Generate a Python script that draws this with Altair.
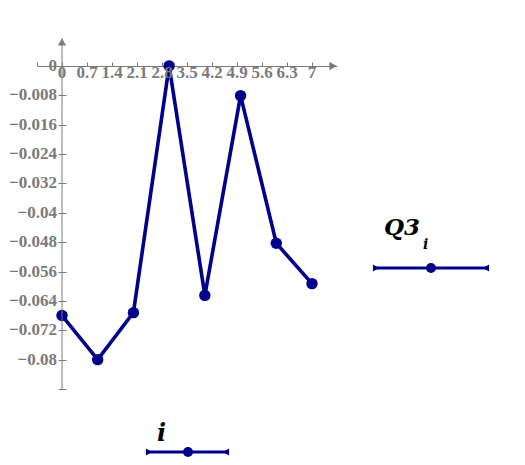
import altair as alt
import pandas as pd

# data
i_vals = [0, 1, 2, 3, 4, 5, 6, 7]
q3_vals = [-0.068, -0.080, -0.0672, 0.0, -0.0625, -0.0081, -0.0483, -0.0593]

x_ticks = [-0.7, 0, 0.7, 1.4, 2.1, 2.8, 3.5, 4.2, 4.9, 5.6, 6.3, 7]
x_labels = [0, 0.7, 1.4, 2.1, 2.8, 3.5, 4.2, 4.9, 5.6, 6.3, 7]
y_ticks = [-0.088, -0.08, -0.072, -0.064, -0.056, -0.048, -0.04, -0.032,
           -0.024, -0.016, -0.008, 0]
y_labels = [-0.08, -0.072, -0.064, -0.056, -0.048, -0.04, -0.032,
            -0.024, -0.016, -0.008, 0]
x_domain = [-0.7, 7.7]
y_domain = [-0.088, 0.0076]


def fmt(v):
    return f"{v:g}".replace("-", "\u2212")


df = pd.DataFrame({"i": i_vals, "Q3": q3_vals})
xl_df = pd.DataFrame({"i": x_labels, "txt": [fmt(v) for v in x_labels]})
yl_df = pd.DataFrame({"Q3": y_labels, "txt": [fmt(v) for v in y_labels]})

GRAY = "#7a7a7a"
NAVY = "#00008b"
FONT = "DejaVu Serif"
LFONT = "Liberation Serif"

xs = alt.Scale(domain=x_domain, nice=False, zero=False)
ys = alt.Scale(domain=y_domain, nice=False, zero=False)
x_axis = alt.Axis(
    orient="top", offset=-28, values=x_ticks, grid=False, title=None,
    tickSize=4, tickColor=GRAY, domainColor=GRAY, labels=False,
)
y_axis = alt.Axis(
    orient="left", offset=-29, values=y_ticks, grid=False, title=None,
    domain=False, tickSize=8, tickColor=GRAY, labels=False,
)
x_enc = alt.X("i:Q", scale=xs, axis=x_axis)
y_enc = alt.Y("Q3:Q", scale=ys, axis=y_axis)

base = alt.Chart(df)
line = base.mark_line(color=NAVY, strokeWidth=3.6).encode(x=x_enc, y=y_enc)
pts = base.mark_point(filled=True, color=NAVY, size=130, opacity=1).encode(x=x_enc, y=y_enc)

# tick labels drawn as text through the same scales
x_lab = alt.Chart(xl_df).mark_text(
    font=LFONT, fontSize=17, fontWeight="bold", color=GRAY,
    align="center", baseline="top").encode(
    x=alt.X("i:Q", scale=xs, axis=x_axis), y=alt.value(27), text="txt:N")
y_lab = alt.Chart(yl_df).mark_text(
    font=LFONT, fontSize=17, fontWeight="bold", color=GRAY,
    align="right", baseline="middle").encode(
    x=alt.value(20), y=alt.Y("Q3:Q", scale=ys, axis=y_axis), text="txt:N")

one = pd.DataFrame({"k": [0]})
oc = alt.Chart(one)
yaxis_line = oc.mark_rule(color=GRAY, strokeWidth=1).encode(
    x=alt.value(25), y=alt.value(0), y2=alt.value(351))
arrow_up = oc.mark_point(shape="triangle-up", filled=True, color=GRAY, size=70, opacity=1).encode(
    x=alt.value(25), y=alt.value(4))
arrow_right = oc.mark_point(shape="triangle-right", filled=True, color=GRAY, size=70, opacity=1).encode(
    x=alt.value(296), y=alt.value(28))

# placeholder labels (Mathcad style)
q3_text = oc.mark_text(text="Q3", font=FONT, fontSize=23, fontWeight="bold",
                       fontStyle="italic", color="black", align="left").encode(
    x=alt.value(347), y=alt.value(190))
q3_sub = oc.mark_text(text="i", font=FONT, fontSize=14, fontWeight="bold",
                      fontStyle="italic", color="black", align="left").encode(
    x=alt.value(386), y=alt.value(207))
q3_rule = oc.mark_rule(color=NAVY, strokeWidth=3).encode(
    x=alt.value(338), x2=alt.value(451), y=alt.value(230))
q3_dot = oc.mark_point(filled=True, color=NAVY, size=100, opacity=1).encode(
    x=alt.value(394), y=alt.value(230))
q3_l = oc.mark_point(shape="triangle-right", filled=True, color=NAVY, size=50, opacity=1).encode(
    x=alt.value(339), y=alt.value(230))
q3_r = oc.mark_point(shape="triangle-left", filled=True, color=NAVY, size=50, opacity=1).encode(
    x=alt.value(449), y=alt.value(230))

i_text = oc.mark_text(text="i", font=FONT, fontSize=24, fontWeight="bold",
                      fontStyle="italic", color="black", align="left").encode(
    x=alt.value(120), y=alt.value(396))
i_rule = oc.mark_rule(color=NAVY, strokeWidth=3).encode(
    x=alt.value(111), x2=alt.value(191), y=alt.value(414))
i_dot = oc.mark_point(filled=True, color=NAVY, size=100, opacity=1).encode(
    x=alt.value(151), y=alt.value(414))
i_l = oc.mark_point(shape="triangle-right", filled=True, color=NAVY, size=50, opacity=1).encode(
    x=alt.value(112), y=alt.value(414))
i_r = oc.mark_point(shape="triangle-left", filled=True, color=NAVY, size=50, opacity=1).encode(
    x=alt.value(189), y=alt.value(414))

chart = alt.layer(
    line, pts, x_lab, y_lab, yaxis_line, arrow_up, arrow_right,
    q3_text, q3_sub, q3_rule, q3_dot, q3_l, q3_r,
    i_text, i_rule, i_dot, i_l, i_r,
).properties(
    width=300, height=351,
    background="white",
    autosize=alt.AutoSizeParams(type="none"),
    padding={"left": 29, "top": 30, "right": 170, "bottom": 68},
).configure_view(strokeWidth=0, stroke="transparent")

chart.save("out.html", embed_options={"renderer": "svg", "actions": False})
